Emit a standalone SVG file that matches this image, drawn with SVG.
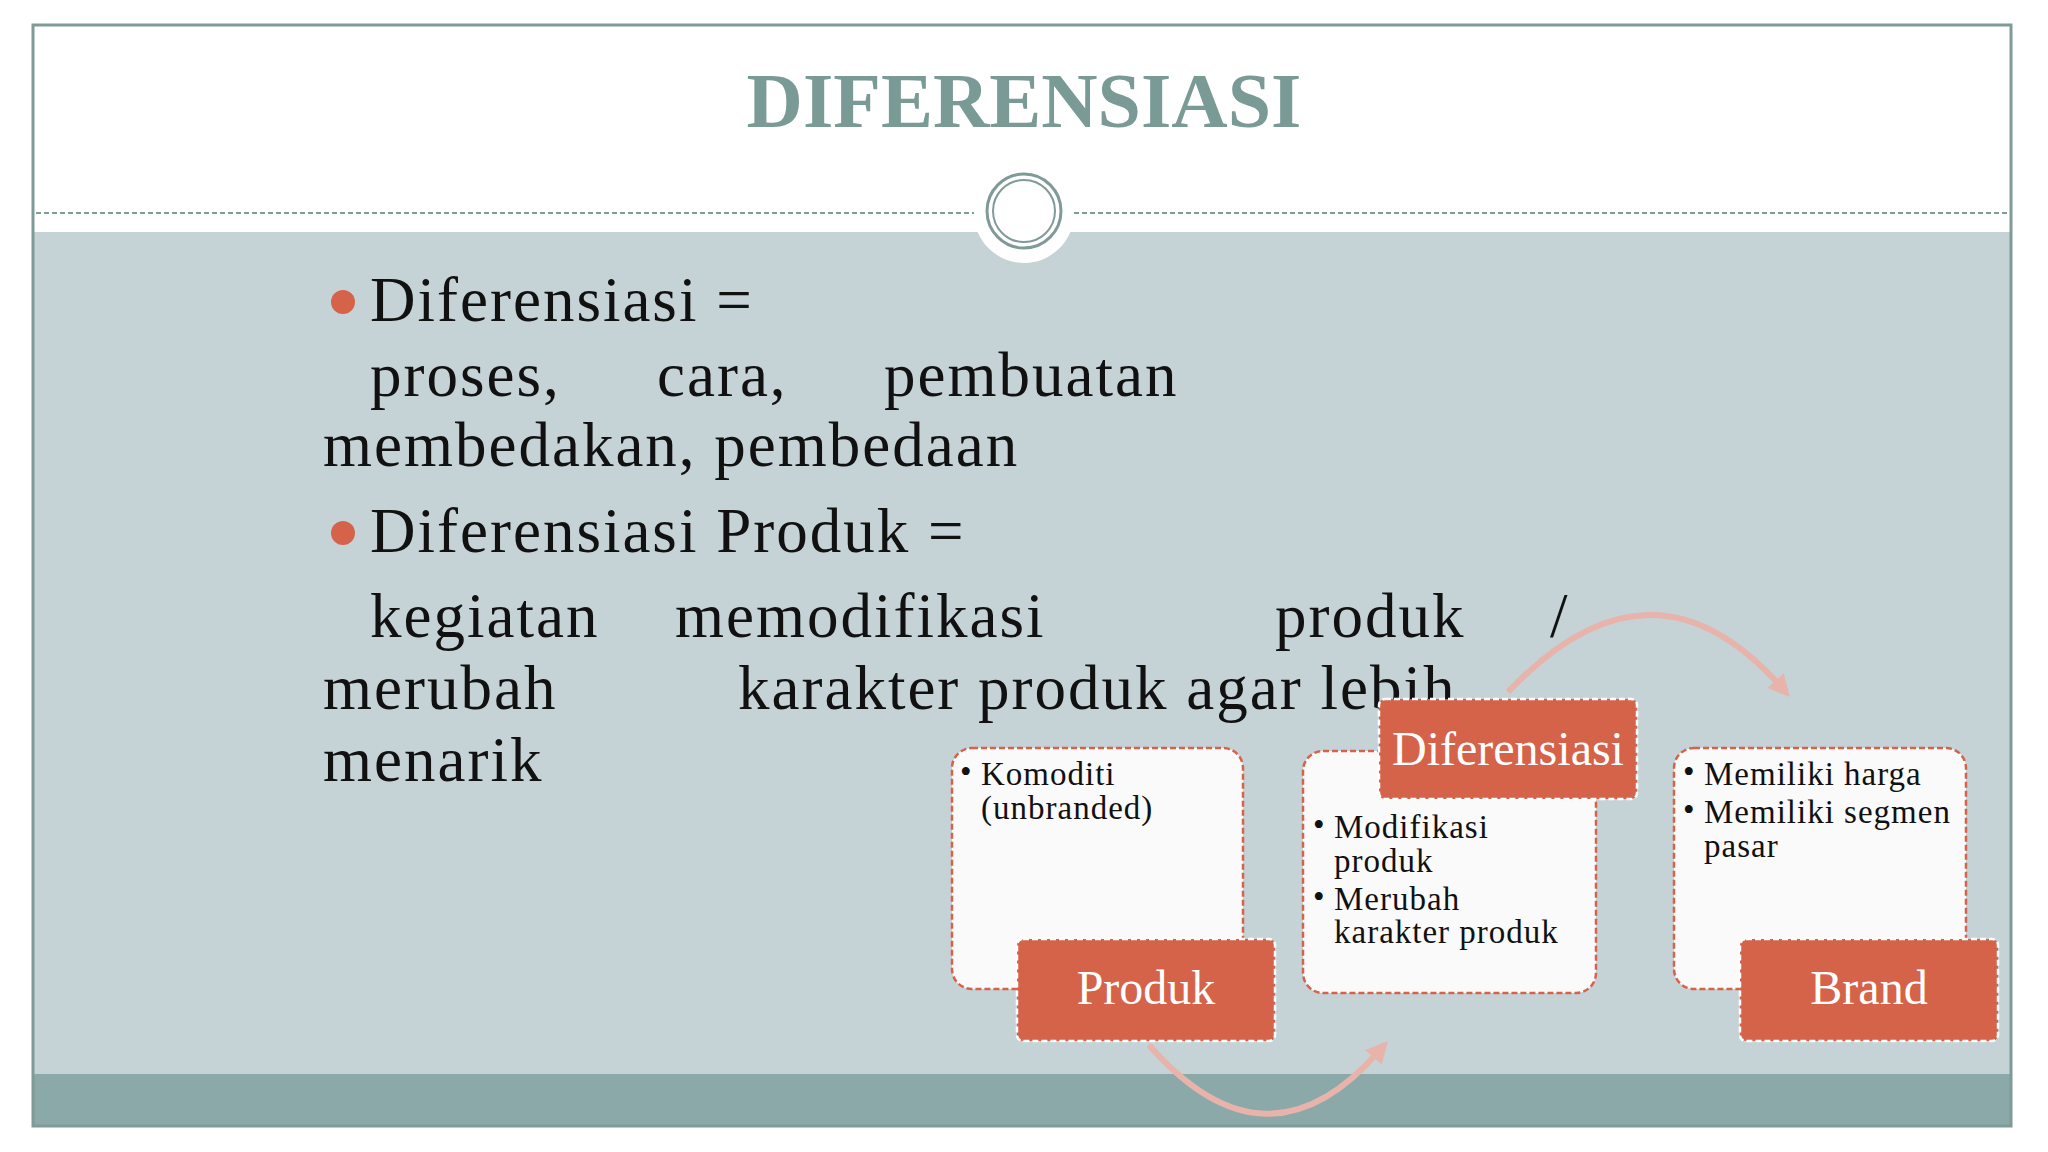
<svg xmlns="http://www.w3.org/2000/svg" width="2048" height="1152" viewBox="0 0 2048 1152">
<defs>
<style>
.body{font-family:"Liberation Serif","DejaVu Serif",serif;font-size:63px;letter-spacing:2px;fill:#111}
.small{font-family:"Liberation Serif","DejaVu Serif",serif;font-size:33px;letter-spacing:1px;fill:#111}
.lbl{font-family:"Liberation Serif","DejaVu Serif",serif;font-size:48px;fill:#fff;text-anchor:middle}
.box{fill:#fafafa;stroke:#d4634a;stroke-width:2.5;stroke-dasharray:6 3}
.tag{fill:#d4634a;stroke:#fff;stroke-width:2.5;stroke-dasharray:6 3}
.arc{fill:none;stroke:#e8b3aa;stroke-width:6}
</style>
<marker id="ah" markerWidth="22" markerHeight="22" refX="10" refY="11" orient="auto" markerUnits="userSpaceOnUse" viewBox="0 0 22 22"><path d="M0,0 L22,11 L0,22 z" fill="#e8b3aa"/></marker>
</defs>
<rect width="2048" height="1152" fill="#fff"/>
<rect x="33" y="232" width="1978" height="842" fill="#c5d3d6"/>
<rect x="33" y="1074" width="1978" height="52" fill="#8aa9a8"/>
<rect x="33" y="25" width="1978" height="1101" fill="none" stroke="#7f9a97" stroke-width="3"/>
<line x1="36" y1="213" x2="974" y2="213" stroke="#7f9a97" stroke-width="2" stroke-dasharray="5 3"/>
<line x1="1074" y1="213" x2="2008" y2="213" stroke="#7f9a97" stroke-width="2" stroke-dasharray="5 3"/>
<circle cx="1024" cy="213" r="50" fill="#fff"/>
<circle cx="1024" cy="211" r="37" fill="none" stroke="#7f9a97" stroke-width="3"/>
<circle cx="1024" cy="211" r="31" fill="none" stroke="#7f9a97" stroke-width="2"/>
<text x="1024" y="127" text-anchor="middle" font-family="Liberation Serif, serif" font-weight="bold" font-size="78" fill="#7a9a96">DIFERENSIASI</text>
<circle cx="343" cy="302" r="12" fill="#d4634a"/>
<text class="body" x="370" y="321">Diferensiasi =</text>
<text class="body" y="396"><tspan x="370">proses,</tspan><tspan x="657">cara,</tspan><tspan x="884">pembuatan</tspan></text>
<text class="body" x="323" y="466">membedakan, pembedaan</text>
<circle cx="343" cy="533" r="12" fill="#d4634a"/>
<text class="body" x="370" y="552">Diferensiasi Produk =</text>
<text class="body" y="637"><tspan x="370">kegiatan</tspan><tspan x="675">memodifikasi</tspan><tspan x="1275">produk</tspan><tspan x="1550">/</tspan></text>
<text class="body" y="709"><tspan x="323">merubah</tspan><tspan x="738">karakter produk agar lebih</tspan></text>
<text class="body" x="323" y="781">menarik</text>
<g id="connectors">
<path class="arc" d="M1508,692 Q1652,540 1782,688" marker-end="url(#ah)"/>
<path class="arc" d="M1149,1045 Q1267,1180 1380,1050" marker-end="url(#ah)"/>
</g>
<g id="produk">
<rect class="box" x="952" y="748" width="291" height="241" rx="20"/>
<text class="small" x="960" y="783">•</text>
<text class="small" x="981" y="785">Komoditi</text>
<text class="small" x="981" y="819">(unbranded)</text>
<rect class="tag" x="1017" y="939" width="258" height="102" rx="6"/>
<text class="lbl" x="1146" y="1004">Produk</text>
</g>
<g id="diferensiasi">
<rect class="box" x="1303" y="751" width="293" height="242" rx="20"/>
<text class="small" x="1313" y="836">•</text>
<text class="small" x="1334" y="838">Modifikasi</text>
<text class="small" x="1334" y="872">produk</text>
<text class="small" x="1313" y="908">•</text>
<text class="small" x="1334" y="910">Merubah</text>
<text class="small" x="1334" y="943">karakter produk</text>
<rect class="tag" x="1379" y="699" width="258" height="100" rx="6"/>
<text class="lbl" x="1508" y="765">Diferensiasi</text>
</g>
<g id="brand">
<rect class="box" x="1674" y="748" width="292" height="241" rx="20"/>
<text class="small" x="1683" y="783">•</text>
<text class="small" x="1704" y="785">Memiliki harga</text>
<text class="small" x="1683" y="821">•</text>
<text class="small" x="1704" y="823">Memiliki segmen</text>
<text class="small" x="1704" y="857">pasar</text>
<rect class="tag" x="1740" y="939" width="258" height="102" rx="6"/>
<text class="lbl" x="1869" y="1004">Brand</text>
</g>
</svg>
